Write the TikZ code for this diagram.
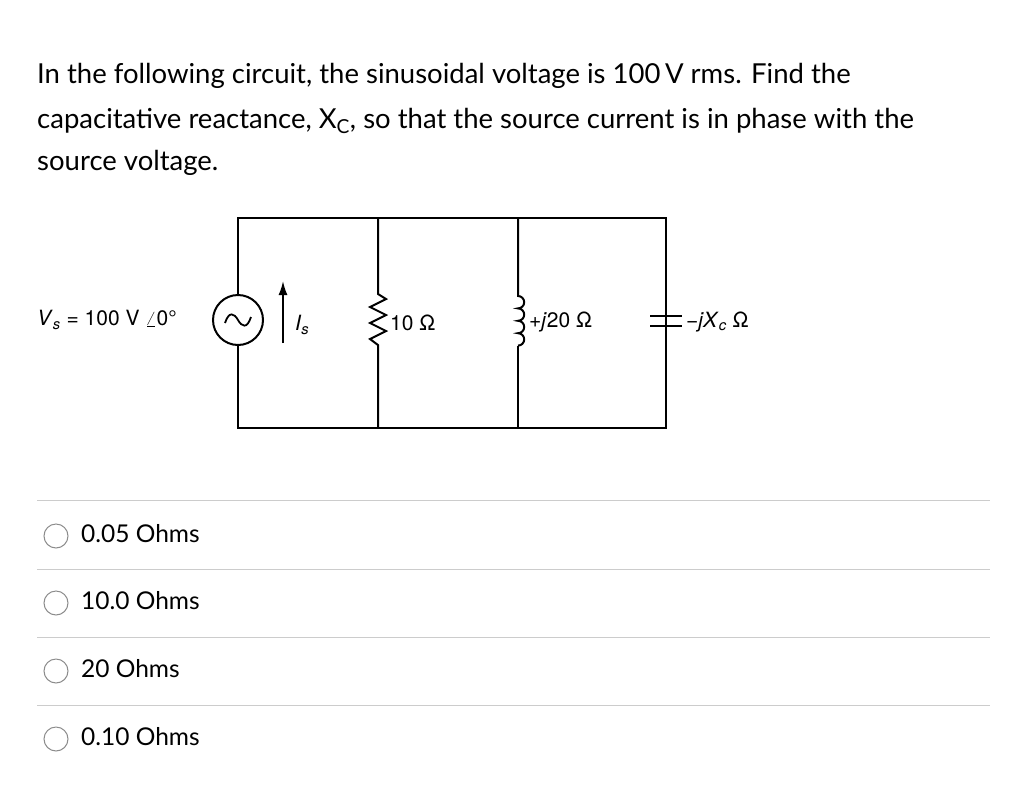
\documentclass[tikz,border=0pt]{standalone}
\usepackage{fontspec}
\setmainfont{Lato}
\newfontfamily\hv{TeX Gyre Heros}
\usetikzlibrary{arrows.meta}
\begin{document}
\begin{tikzpicture}[x=1pt,y=-1pt,
  wire/.style={line width=2pt},
  q/.style={anchor=base west,inner sep=0,font=\fontsize{27.5}{27.5}\selectfont},
  opt/.style={anchor=west,inner sep=0,font=\fontsize{24.5}{24.5}\selectfont},
  lab/.style={anchor=west,inner sep=0,font=\hv\fontsize{21}{21}\selectfont},
  sep/.style={draw=black!20,line width=1pt},
  radio/.style={draw=black!45,line width=1pt,circle,minimum size=24pt,inner sep=0}]
\useasboundingbox (0,0) rectangle (1024,808);
\node[q] (t1) at (37,83) {In the following circuit, the sinusoidal voltage is 100\,V rms. Find the};
\node[q] (t2) at (37,128) {capacitative reactance, X\textsubscript{C}, so that the source current is in phase with the};
\node[q] (t3) at (37,170) {source voltage.};
% circuit
\coordinate (tl) at (238,218); \coordinate (bl) at (238,428);
\coordinate (tr) at (666,218); \coordinate (br) at (666,428);
\coordinate (tR) at (378,218); \coordinate (bR) at (378,428);
\coordinate (tL) at (518,218); \coordinate (bL) at (518,428);
\draw[wire] (bl) -- (tl) -- (tr) -- (br) -- cycle;
\node[draw,line width=2pt,circle,minimum size=50pt,inner sep=0,fill=white] (src) at (238,320) {};
\draw[line width=1.8pt] (225,323) .. controls (229,311) and (234,313) .. (238,320) .. controls (242,327) and (247,329) .. (251,317);
\draw[wire] (tR) -- (378,294) -- (386,299) -- (370,307) -- (386,315) -- (370,323) -- (386,331) -- (370,339) -- (378,345) -- (bR);
\draw[wire] (tL) -- (518,296) arc (-90:90:6.2) arc(-90:90:6.2) arc(-90:90:6.2) arc(-90:90:6.2);
\draw[wire] (518,345.6) -- (bL);
\draw[wire] (tr) -- (666,316); \draw[wire] (666,326) -- (br);
\draw[wire] (650,316) -- (682,316); \draw[wire] (650,326) -- (682,326);
\coordinate (a0) at (283,343); \coordinate (a1) at (283,281);
\draw[line width=1.8pt,-{Latex[length=14pt,width=9pt]}] (a0) -- (a1);
\node[lab] (Vs) at (37,320) {\textit{V}\textsubscript{\textit{s}} = 100 V $\angle$0°};
\node[lab] (Is) at (295,325) {\textit{I}\textsubscript{\textit{s}}};
\node[lab] (R) at (390,323) {10 Ω};
\node[lab] (XL) at (529,322) {+\textit{j}20 Ω};
\node[lab] (XC) at (686,322) {−\textit{jX}\textsubscript{\textit{c}} Ω};
% options
\foreach \y in {500,569,637,705} \draw[sep] (37,\y) -- (990,\y);
\node[radio] (r1) at (56,536) {}; \node[opt] (o1) at (81,534) {0.05 Ohms};
\node[radio] (r2) at (56,603) {}; \node[opt] (o2) at (81,601) {10.0 Ohms};
\node[radio] (r3) at (56,671) {}; \node[opt] (o3) at (81,669) {20 Ohms};
\node[radio] (r4) at (56,739) {}; \node[opt] (o4) at (81,737) {0.10 Ohms};
\end{tikzpicture}
\end{document}
